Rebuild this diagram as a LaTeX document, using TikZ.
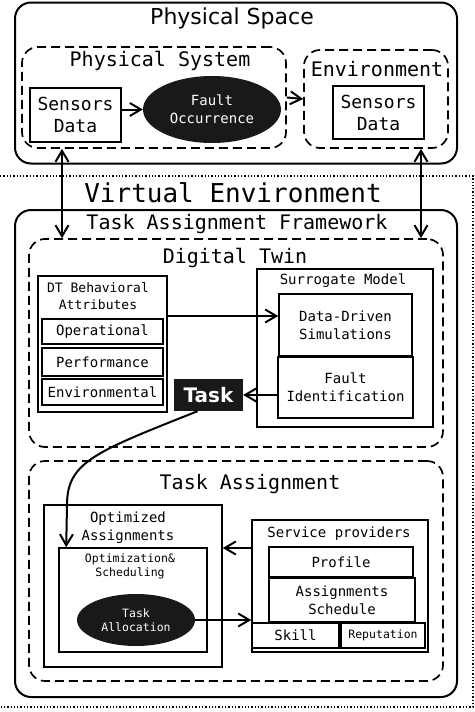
\documentclass[tikz,border=0pt]{standalone}
\usepackage{fontspec}
\setmainfont{DejaVu Sans Mono}
\newfontfamily\sansfont{DejaVu Sans}
\usetikzlibrary{arrows.meta,shapes.geometric}

\begin{document}
\begin{tikzpicture}[x=1pt, y=-1pt,
    outer/.style={draw, line width=2pt, rounded corners=16pt},
    dashbox/.style={draw, line width=1.7pt, dash pattern=on 9pt off 5pt, rounded corners=16pt},
    box/.style={draw, line width=1.6pt, inner sep=0pt, align=center},
    blob/.style={ellipse, fill=black!90, text=white, inner sep=0pt, align=center},
    arr/.style={-{Straight Barb[length=11pt,width=13pt]}, line width=2pt},
    dblarr/.style={{Straight Barb[length=11pt,width=13pt]}-{Straight Barb[length=11pt,width=13pt]}, line width=2pt},
    fbig/.style={font=\fontsize{26}{30}\selectfont},
    fhead/.style={font=\fontsize{20}{24}\selectfont},
    fsens/.style={font=\fontsize{18}{22}\selectfont},
    fmid/.style={font=\fontsize{14}{18}\selectfont},
    fsmall/.style={font=\fontsize{11.5}{14}\selectfont}]
    \useasboundingbox (0,0) rectangle (474,712);

    \node[outer, minimum width=442pt, minimum height=161pt] (phys) at (236,83) {};
    \node[font=\sansfont\fontsize{22}{26}\selectfont] (physt) at (232,18) {Physical Space};
    \node[dashbox, minimum width=264pt, minimum height=101pt] (physsys) at (154,97.5) {};
    \node[fhead] (physsyst) at (160,61) {Physical System};
    \node[box, fsens, minimum width=91pt, minimum height=54pt] (sens) at (75.5,115) {Sensors\\Data};
    \node[blob, fmid, minimum width=138pt, minimum height=67pt] (fault) at (212,109.5) {Fault\\Occurrence};
    \node[dashbox, minimum width=144pt, minimum height=98pt] (env) at (376,99) {};
    \node[fhead] (envt) at (377,69) {Environment};
    \node[box, fsens, minimum width=91pt, minimum height=53pt] (envsens) at (378.5,112.5) {Sensors\\Data};

    \draw[dotted, line width=1.3pt] (0,176) -- (473,176) -- (473,707) -- (0,707);
    \node[fbig] (virt) at (233,193) {Virtual Environment};

    \node[outer, minimum width=442pt, minimum height=487pt] (frame) at (236,453.5) {};
    \node[fhead] (framet) at (237,224) {Task Assignment Framework};

    \node[dashbox, minimum width=414pt, minimum height=208pt] (dt) at (236,343) {};
    \node[fhead] (dtt) at (235,258) {Digital Twin};
    \node[box, minimum width=129pt, minimum height=136pt] (attr) at (102.5,344) {};
    \node[font=\fontsize{13}{17}\selectfont, align=center] (attrt) at (98,296) {DT Behavioral\\Attributes};
    \node[box, fmid, minimum width=121pt, minimum height=25pt] (oper) at (102.5,331.5) {Operational};
    \node[box, fmid, minimum width=121pt, minimum height=28pt] (perf) at (102.5,362) {Performance};
    \node[box, fmid, minimum width=121pt, minimum height=26pt] (envl) at (102.5,392) {Environmental};
    \node[box, minimum width=176pt, minimum height=158pt] (surr) at (345,348) {};
    \node[fmid] (surrt) at (343,281) {Surrogate Model};
    \node[box, fmid, minimum width=133pt, minimum height=62pt] (sim) at (345.5,325) {Data-Driven\\Simulations};
    \node[box, fmid, minimum width=135pt, minimum height=61pt] (ident) at (345.5,387.5) {Fault\\Identification};
    \node[fill=black!90, text=white, inner sep=0pt, minimum width=69pt, minimum height=32pt,
        font=\sansfont\bfseries\fontsize{20}{24}\selectfont] (task) at (208.5,395) {Task};

    \node[dashbox, minimum width=414pt, minimum height=220pt] (ta) at (236,571) {};
    \node[fhead] (tat) at (250,484) {Task Assignment};
    \node[box, minimum width=178pt, minimum height=162pt] (opt) at (133,586) {};
    \node[fmid, align=center] (optt) at (128,528) {Optimized\\Assignments};
    \node[box, minimum width=148pt, minimum height=104pt] (sched) at (133,600) {};
    \node[fsmall, align=center] (schedt) at (130,566) {Optimization\&\\Scheduling};
    \node[blob, fsmall, minimum width=118pt, minimum height=52pt] (alloc) at (136,620) {Task\\Allocation};
    \node[box, minimum width=176pt, minimum height=132pt] (sp) at (340,586) {};
    \node[fmid] (spt) at (339,534) {Service providers};
    \node[box, fmid, minimum width=144pt, minimum height=30pt] (prof) at (341,562) {Profile};
    \node[box, fmid, minimum width=146pt, minimum height=44pt] (asch) at (342,600) {Assignments\\Schedule};
    \node[box, fmid, minimum width=87pt, minimum height=25pt] (skill) at (295.5,635.5) {Skill};
    \node[box, fsmall, minimum width=84pt, minimum height=25pt] (rep) at (383,635.5) {Reputation};

    \draw[arr] (sens.east |- fault.west) -- (fault.west);
    \draw[arr] (physsys.east) -- (env.west);
    \draw[dblarr] ([xshift=-92pt]physsys.south) -- ([xshift=-92pt]physsys.south |- dt.north);
    \draw[dblarr] ([xshift=45pt]env.south) -- ([xshift=45pt]env.south |- dt.north);
    \draw[arr] ([yshift=28pt]attr.east) -- ([yshift=9pt]sim.west);
    \draw[arr] (ident.west |- task.east) -- (task.east);
    \draw[arr] ([xshift=-11pt]task.south) .. controls (95,452) and (67,462) .. (67,505) -- ([xshift=8pt]sched.north west);
    \draw[arr] ([yshift=38pt]sp.west) -- ([yshift=38pt]opt.east);
    \draw[arr] (alloc.east) -- (alloc.east -| sp.west);
\end{tikzpicture}
\end{document}
